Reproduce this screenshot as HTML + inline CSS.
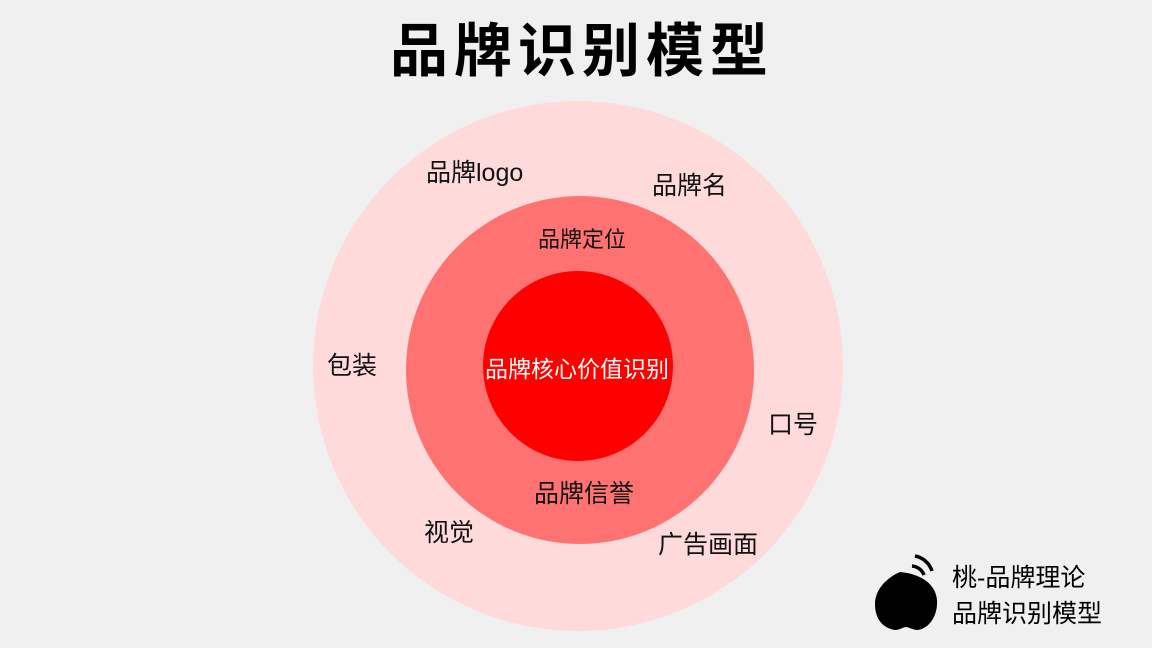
<!DOCTYPE html>
<html><head><meta charset="utf-8"><style>
body{margin:0;width:1152px;height:648px;background:#f0f0f0;overflow:hidden;position:relative;font-family:"Liberation Sans","Noto Sans CJK SC",sans-serif}
.t{position:absolute;white-space:nowrap;color:#111}
</style></head><body>
<svg width="1152" height="648" style="position:absolute;left:0;top:0">
<circle cx="578" cy="366" r="265" fill="#ffdada"/>
<circle cx="580" cy="370" r="174" fill="#ff7272"/>
<circle cx="578" cy="366" r="95" fill="#ff0000"/>
<path d="M900 572 C886 578 875 590 875 604 C875 618 882 628 895 630 C900 630 903 627 906 627 C909 627 912 630 918 630 C930 628 938 615 937 600 C936 585 922 574 900 572 Z" fill="#000"/>
<path d="M912 566 A14 14 0 0 1 924 575" stroke="#000" stroke-width="3.5" fill="none"/>
<path d="M915 556 A22 22 0 0 1 932 571" stroke="#000" stroke-width="3.5" fill="none"/>
</svg>
<div class="t" style="left:0;width:1164px;text-align:center;top:4px;font-size:58px;font-weight:bold;letter-spacing:6px;color:#000">品牌识别模型</div>
<div class="t" style="left:426px;top:153px;font-size:25px">品牌logo</div>
<div class="t" style="left:652px;top:166px;font-size:25px">品牌名</div>
<div class="t" style="left:538px;top:222px;font-size:22px">品牌定位</div>
<div class="t" style="left:327px;top:346px;font-size:25px">包装</div>
<div class="t" style="left:485px;top:350px;font-size:23px;color:#fff">品牌核心价值识别</div>
<div class="t" style="left:768px;top:405px;font-size:25px">口号</div>
<div class="t" style="left:534px;top:474px;font-size:25px">品牌信誉</div>
<div class="t" style="left:424px;top:513px;font-size:25px">视觉</div>
<div class="t" style="left:658px;top:525px;font-size:25px">广告画面</div>
<div class="t" style="left:952px;top:558px;font-size:25px;color:#000">桃-品牌理论</div>
<div class="t" style="left:952px;top:594px;font-size:25px;color:#000">品牌识别模型</div>
</body></html>
